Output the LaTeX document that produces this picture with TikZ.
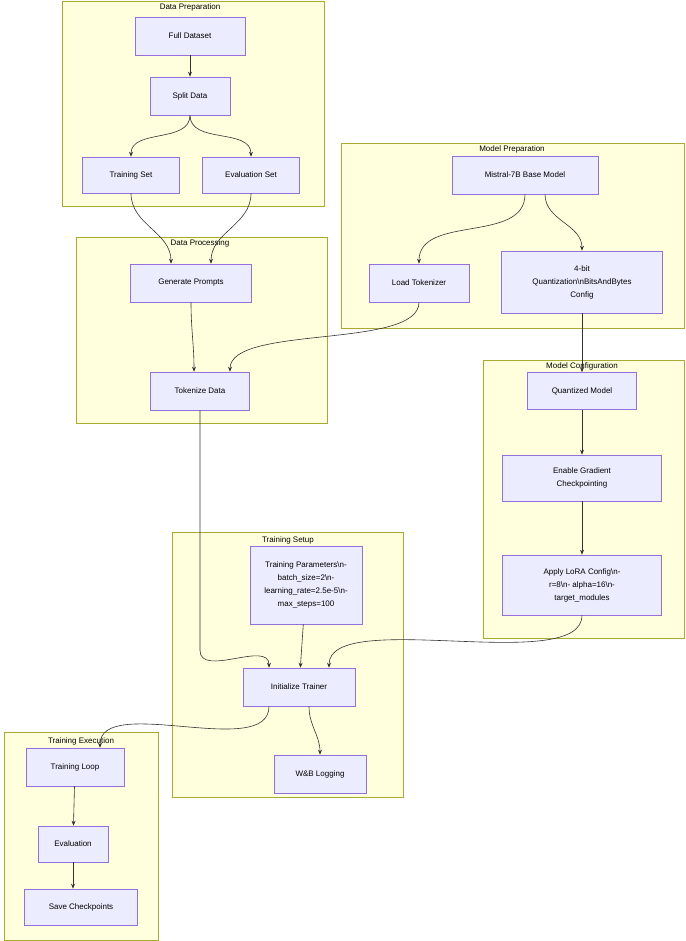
\documentclass[tikz,border=0pt]{standalone}
\usepackage{fontspec}
\setmainfont{Liberation Sans}
\usetikzlibrary{arrows.meta, positioning}
\definecolor{clfill}{HTML}{FFFFDE}
\definecolor{cldraw}{HTML}{AAAA33}
\definecolor{ndfill}{HTML}{ECECFF}
\definecolor{nddraw}{HTML}{9370DB}
\definecolor{edge}{HTML}{333333}
\tikzset{
  cluster/.style = {draw=cldraw, fill=clfill, line width=0.6pt},
  ctitle/.style = {font=\fontsize{8}{10}\selectfont, anchor=north, inner sep=1pt},
  proc/.style = {draw=nddraw, fill=ndfill, line width=0.6pt, align=center,
     font=\fontsize{8}{13}\selectfont, inner sep=2pt},
  flow/.style = {draw=edge, line width=0.6pt, -{Stealth[length=5pt, width=4pt]}}
}
\begin{document}
\begin{tikzpicture}[x=1pt, y=-1pt]
   \useasboundingbox (0,0) rectangle (685,941);
   % clusters
   \draw[cluster] (62,1) rectangle (324,206);
   \draw[cluster] (341,143) rectangle (684,328);
   \draw[cluster] (76,237) rectangle (327,423);
   \draw[cluster] (483,360) rectangle (684,638);
   \draw[cluster] (172,532) rectangle (403,797);
   \draw[cluster] (4,732) rectangle (158,940);
   \node[ctitle] (tprep)  at (190,3)   {Data Preparation};
   \node[ctitle] (tmodel) at (512,145) {Model Preparation};
   \node[ctitle] (tproc)  at (200,239) {Data Processing};
   \node[ctitle] (tconf)  at (582,362) {Model Configuration};
   \node[ctitle] (tsetup) at (288,535) {Training Setup};
   \node[ctitle] (texec)  at (81,736)  {Training Execution};

   % nodes
   \node[proc, minimum width=110, minimum height=38] (full)  at (190,36)  {Full Dataset};
   \node[proc, minimum width=80,  minimum height=38] (split) at (190,96)  {Split Data};
   \node[proc, minimum width=97,  minimum height=36] (train) at (131,175) {Training Set};
   \node[proc, minimum width=97,  minimum height=36] (evalset) at (251,175) {Evaluation Set};
   \node[proc, minimum width=146, minimum height=38] (mistral) at (525,175) {Mistral-7B Base Model};
   \node[proc, minimum width=121, minimum height=38] (prompts) at (191,283) {Generate Prompts};
   \node[proc, minimum width=100, minimum height=38] (tok) at (419,283) {Load Tokenizer};
   \node[proc, minimum width=161, minimum height=62] (quant) at (582,282)
      {4-bit\\Quantization\textbackslash nBitsAndBytes\\Config};
   \node[proc, minimum width=99,  minimum height=38] (tokdata) at (200,391) {Tokenize Data};
   \node[proc, minimum width=109, minimum height=37] (qmodel) at (582,391) {Quantized Model};
   \node[proc, minimum width=159, minimum height=46] (grad) at (582,478)
      {Enable Gradient\\Checkpointing};
   \node[proc, minimum width=159, minimum height=60] (lora) at (582,585)
      {Apply LoRA Config\textbackslash n-\\r=8\textbackslash n- alpha=16\textbackslash n-\\target\_modules};
   \node[proc, minimum width=112, minimum height=78] (params) at (306,585)
      {Training Parameters\textbackslash n-\\batch\_size=2\textbackslash n-\\learning\_rate=2.5e-5\textbackslash n-\\max\_steps=100};
   \node[proc, minimum width=112, minimum height=38] (init) at (299,687) {Initialize Trainer};
   \node[proc, minimum width=92,  minimum height=38] (wandb) at (320,774) {W\&B Logging};
   \node[proc, minimum width=98,  minimum height=38] (loop) at (75,767) {Training Loop};
   \node[proc, minimum width=70,  minimum height=36] (evaluation) at (73,844) {Evaluation};
   \node[proc, minimum width=113, minimum height=36] (save) at (81,907) {Save Checkpoints};

   % connectors
   \draw[flow] (full) -- (split);
   \draw[flow] (split.south) to[out=-90, in=90] (train.north);
   \draw[flow] (split.south) to[out=-90, in=90] (evalset.north);
   \draw[flow] (train.south) to[out=-90, in=90] ([xshift=-20pt]prompts.north);
   \draw[flow] (evalset.south) to[out=-90, in=90] ([xshift=20pt]prompts.north);
   \draw[flow] (mistral.south) to[out=-90, in=90] (tok.north);
   \draw[flow] ([xshift=20pt]mistral.south) to[out=-90, in=90] (quant.north);
   \draw[flow] (prompts.south) to[out=-90, in=90] ([xshift=-6pt]tokdata.north);
   \draw[flow] (tok.south) to[out=-90, in=90, looseness=0.6] ([xshift=30pt]tokdata.north);
   \draw[flow] (quant) -- (qmodel);
   \draw[flow] (qmodel) -- (grad);
   \draw[flow] (grad) -- (lora);
   \draw[flow] (tokdata.south) -- ++(0,240) to[out=-90, in=90] ([xshift=-30pt]init.north);
   \draw[flow] (params) -- (init);
   \draw[flow] (lora.south) to[out=-90, in=90, looseness=0.6] ([xshift=30pt]init.north);
   \draw[flow] ([xshift=-30pt]init.south) to[out=-90, in=90, looseness=0.8] ([xshift=25pt]loop.north);
   \draw[flow] ([xshift=10pt]init.south) to[out=-90, in=90] (wandb.north);
   \draw[flow] (loop) -- (evaluation);
   \draw[flow] (evaluation) -- ([xshift=-8pt]save.north);
\end{tikzpicture}
\end{document}
